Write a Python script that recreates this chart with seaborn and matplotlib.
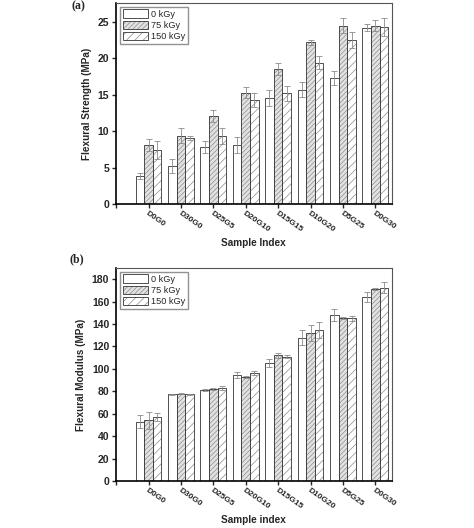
import numpy as np
import pandas as pd
import matplotlib
matplotlib.use("Agg")
import matplotlib.pyplot as plt
import seaborn as sns

# Datos
muestras = ["D0G0", "D30G0", "D25G5", "D20G10", "D15G15", "D10G20", "D5G25", "D0G30"]
dosis = ["0 kGy", "75 kGy", "150 kGy"]

# (a) resistencia a flexión (MPa)
fs_0 = [3.9, 5.2, 7.8, 8.1, 14.5, 15.7, 17.3, 24.2]
fs_75 = [8.1, 9.4, 12.1, 15.3, 18.5, 22.2, 24.5, 24.5]
fs_150 = [7.4, 9.1, 9.3, 14.3, 15.2, 19.4, 22.5, 24.3]
fs_err_0 = [0.4, 1.0, 0.8, 1.1, 1.1, 1.0, 1.0, 0.5]
fs_err_75 = [0.8, 1.0, 0.8, 0.8, 0.8, 0.3, 1.0, 0.7]
fs_err_150 = [1.2, 0.3, 1.1, 1.0, 1.0, 0.9, 1.1, 1.2]

# (b) módulo de flexión (MPa)
fm_0 = [53, 77.5, 81, 94.5, 105, 128, 148, 164]
fm_75 = [54, 78, 82, 93, 112, 132, 145.5, 171]
fm_150 = [57, 77.5, 83, 96.5, 111, 134.5, 145, 172.5]
fm_err_0 = [6, 0.5, 1, 2.5, 3.5, 7, 5, 4.5]
fm_err_75 = [8, 0.5, 1, 1, 2.5, 7, 1, 1]
fm_err_150 = [3.5, 0.5, 2, 1.5, 1, 7, 2, 5]

sns.set_style("ticks")
plt.rcParams["font.family"] = ["Liberation Sans", "DejaVu Sans"]
plt.rcParams["hatch.linewidth"] = 0.5

colores = {"0 kGy": "white", "75 kGy": "#e2e2e2", "150 kGy": "white"}
tramas = ["", "///////", "////"]


def tabla(v0, v75, v150, e0, e75, e150):
    filas = []
    for d, vals, errs in zip(dosis, [v0, v75, v150], [e0, e75, e150]):
        for m, v, e in zip(muestras, vals, errs):
            filas.append({"muestra": m, "dosis": d, "valor": v, "err": e})
    return pd.DataFrame(filas)


def panel(ax, df, ylim, yticks, ylabel, xlabel):
    sns.barplot(data=df, x="muestra", y="valor", hue="dosis", order=muestras,
                hue_order=dosis, palette=colores, errorbar=None,
                edgecolor="#333333", linewidth=0.6, ax=ax, legend=False)
    for cont, d, h in zip(ax.containers, dosis, tramas):
        errs = df[df["dosis"] == d].set_index("muestra").loc[muestras, "err"].values
        for p, e in zip(cont.patches, errs):
            p.set_hatch(h)
            # trama en gris más claro que el borde
            p._hatch_color = (0.55, 0.55, 0.55, 1.0)
            x = p.get_x() + p.get_width() / 2
            ax.errorbar(x, p.get_height(), yerr=e, color="#8a8a8a",
                        elinewidth=0.6, capsize=2, capthick=0.6, zorder=5)
    ax.legend(ax.containers, dosis, loc="upper left", fontsize=6.6,
              frameon=True, fancybox=False, edgecolor="#777777",
              handlelength=2.8, handleheight=1.0, borderaxespad=0.4,
              borderpad=0.3, labelspacing=0.2, handletextpad=0.35)
    ax.set_xlim(-1, 7.5)
    ax.set_ylim(*ylim)
    ax.set_yticks(yticks)
    ax.set_xticks(range(-1, 8))
    ax.set_xticklabels([""] + muestras, rotation=-35, ha="left",
                       rotation_mode="anchor", fontsize=6, fontweight="bold")
    for t in ax.get_yticklabels():
        t.set_fontsize(7.5)
        t.set_fontweight("bold")
    ax.tick_params(axis="both", direction="out", length=3, width=1, pad=2)
    ax.tick_params(axis="x", pad=1.5)
    ax.set_ylabel(ylabel, fontsize=7.2, fontweight="bold", labelpad=4)
    ax.set_xlabel(xlabel, fontsize=7.2, fontweight="bold", labelpad=3)
    for s in ["left", "bottom"]:
        ax.spines[s].set_linewidth(1.2)
        ax.spines[s].set_color("black")
    for s in ["top", "right"]:
        ax.spines[s].set_linewidth(0.8)
        ax.spines[s].set_color("#555555")


fig = plt.figure(figsize=(4.74, 5.28), dpi=100)
ax1 = fig.add_axes([0.245, 0.6136, 0.581, 0.3807])
ax2 = fig.add_axes([0.245, 0.089, 0.581, 0.4034])

panel(ax1, tabla(fs_0, fs_75, fs_150, fs_err_0, fs_err_75, fs_err_150),
      (0, 27.6), range(0, 26, 5), "Flexural Strength (MPa)", "Sample Index")
panel(ax2, tabla(fm_0, fm_75, fm_150, fm_err_0, fm_err_75, fm_err_150),
      (0, 190), range(0, 181, 20), "Flexural Modulus (MPa)", "Sample index")

fig.text(0.165, 0.988, "(a)", fontsize=8.5, fontweight="bold",
         family="Liberation Serif", va="center", ha="center")
fig.text(0.163, 0.508, "(b)", fontsize=8.5, fontweight="bold",
         family="Liberation Serif", va="center", ha="center")

fig.savefig("out.png", dpi=100)
